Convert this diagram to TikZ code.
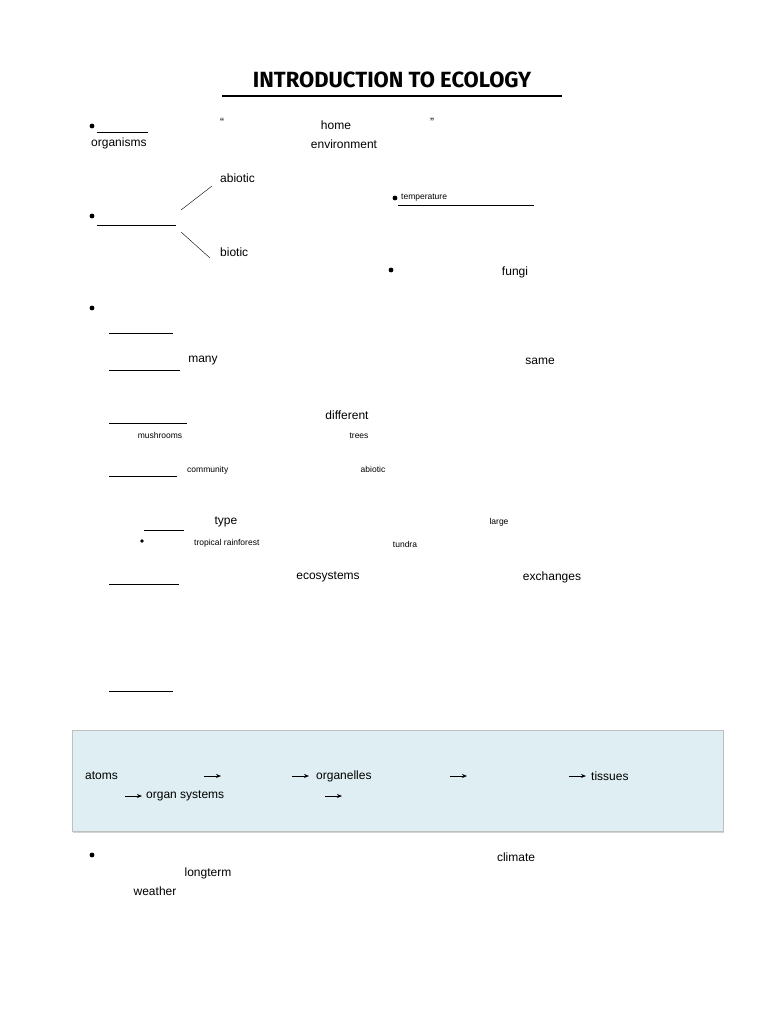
\documentclass[tikz,border=0pt]{standalone}
\usepackage{fontspec}
\setmainfont{Liberation Sans}
\newfontfamily\titlefont{Fira Sans}
\usetikzlibrary{arrows.meta,shadows}
\begin{document}
\begin{tikzpicture}[x=1pt,y=-1pt,
  t/.style={inner sep=0pt,font=\fontsize{12}{14}\selectfont},
  tl/.style={t,anchor=west},
  s/.style={inner sep=0pt,font=\fontsize{8.5}{10}\selectfont},
  sl/.style={s,anchor=west},
  blank/.style={line width=0.8pt},
  bul/.style={fill,circle,inner sep=1.7pt},
  arr/.style={-{Stealth[length=5pt,width=4pt]},line width=0.9pt}]
\useasboundingbox (0,0) rectangle (768,1024);
% title
\node[inner sep=0pt,font=\titlefont\fontsize{22}{24}\selectfont\bfseries] (title) at (392,80) {INTRODUCTION TO ECOLOGY};
\draw[line width=1.2pt] (222,96) -- (562,96);
% line 1
\node[bul] (b1) at (92,126) {}; \draw[blank] (97,132) -- (148,132);
\node[t] at (222,122) {``}; \node[t] at (336,125) {home}; \node[t] at (432,122) {''};
\node[tl] at (91,143) {organisms}; \node[t] at (344,144) {environment};
% abiotic/biotic
\node[tl] at (220,178) {abiotic};
\draw (181,210) -- (212,186);
\node[bul] at (92,216) {}; \draw[blank] (97,225) -- (176,225);
\draw (181,232) -- (210,258);
\node[tl] at (220,252) {biotic};
\node[bul] at (395,198) {}; \node[sl] at (401,198) {temperature}; \draw[blank] (398,205) -- (534,205);
\node[bul] at (391,270) {}; \node[t] at (515,272) {fungi};
% levels
\node[bul] at (92,308) {};
\draw[blank] (109,333) -- (173,333);
\draw[blank] (109,370) -- (180,370); \node[t] at (203,361) {many}; \node[t] at (540,361) {same};
\draw[blank] (109,423) -- (187,423); \node[t] at (347,415) {different};
\node[s] at (160,435) {mushrooms}; \node[s] at (359,436) {trees};
\draw[blank] (109,476) -- (177,476); \node[sl] at (187,470) {community}; \node[s] at (373,469) {abiotic};
\draw[blank] (144,530) -- (184,530); \node[t] at (226,522) {type}; \node[s] at (499,522) {large};
\node[bul,inner sep=1.4pt] at (142,541) {}; \node[sl] at (194,543) {tropical rainforest}; \node[s] at (405,544) {tundra};
\draw[blank] (109,584) -- (179,584); \node[t] at (328,577) {ecosystems}; \node[t] at (552,577) {exchanges};
\draw[blank] (109,691) -- (173,691);
% box
\node[draw=black!25,fill={rgb,255:red,222;green,238;blue,242},minimum width=651pt,minimum height=101pt,anchor=north west,drop shadow={opacity=0.35,shadow xshift=1pt,shadow yshift=-2pt}] (box) at (72,730) {};
\node[tl] at (85,776) {atoms};
\draw[arr] (204,776) -- (221,776);
\draw[arr] (292,776) -- (309,776);
\node[tl] at (316,776) {organelles};
\draw[arr] (450,776) -- (467,776);
\draw[arr] (569,776) -- (586,776);
\node[tl] at (591,776) {tissues};
\draw[arr] (125,796) -- (142,796);
\node[tl] at (146,796) {organ systems};
\draw[arr] (325,796) -- (342,796);
% climate
\node[bul] at (92,855) {}; \node[t] at (516,857) {climate};
\node[t] at (208,873) {longterm}; \node[t] at (155,891) {weather};
\end{tikzpicture}
\end{document}
